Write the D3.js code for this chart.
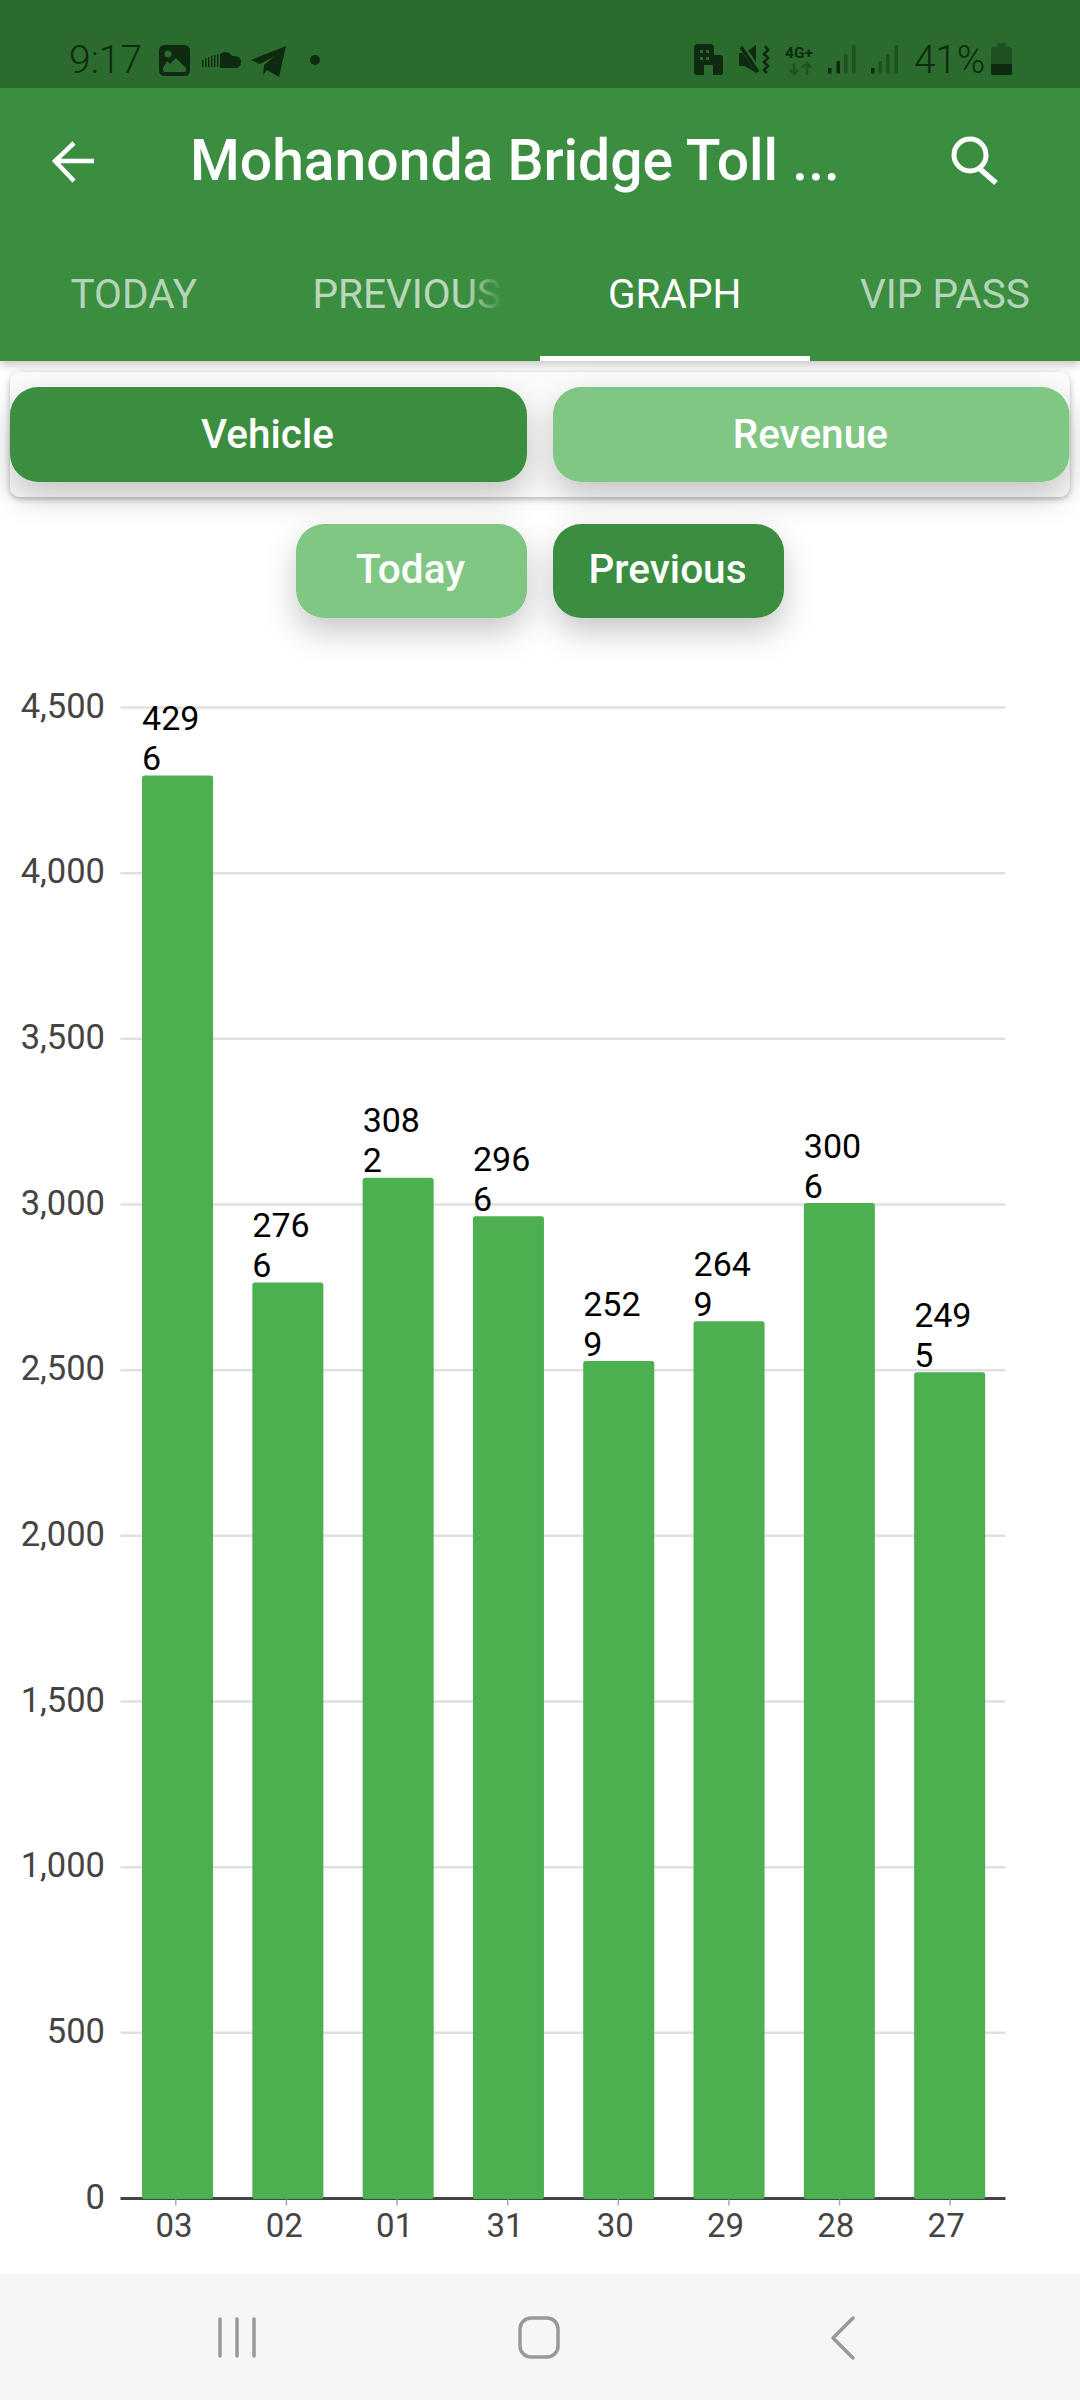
<!DOCTYPE html>
<html>
<head>
<meta charset="utf-8">
<script src="https://cdn.jsdelivr.net/npm/d3@7"></script>
<style>
html, body { margin: 0; padding: 0; background: #fff; }
svg { display: block; font-family: Roboto, sans-serif; }
</style>
</head>
<body>
<div id="chart"></div>
<script>
// values
var days = ["03", "02", "01", "31", "30", "29", "28", "27"]
var vehicles = [4296, 2766, 3082, 2966, 2529, 2649, 3006, 2495]
var yTicks = [0, 500, 1000, 1500, 2000, 2500, 3000, 3500, 4000, 4500]

var GREEN_DARK = "#3a8e3f", GREEN_LIGHT = "#81c784", GREEN_BAR = "#4caf50"
var STATUS_BG = "#2b6b2e", STATUS_FG = "#0e2a10", STATUS_DIM = "#1d5222"

var svg = d3.select("#chart").append("svg")
    .attr("width", 1080)
    .attr("height", 2400)
    .attr("viewBox", "0 0 1080 2400")

var defs = svg.append("defs")

function shadow(id, dy, blur, opacity) {
    defs.append("filter")
        .attr("id", id)
        .attr("x", "-30%").attr("y", "-40%")
        .attr("width", "160%").attr("height", "220%")
        .append("feDropShadow")
        .attr("dx", 0).attr("dy", dy)
        .attr("stdDeviation", blur)
        .attr("flood-color", "#000")
        .attr("flood-opacity", opacity)
}
shadow("btnShadow", 14, 16, 0.22)
shadow("barShadow", 4, 5, 0.22)
shadow("cardShadow", 2, 3, 0.3)

var fade = defs.append("linearGradient")
    .attr("id", "tabFade")
    .attr("gradientUnits", "userSpaceOnUse")
    .attr("x1", 465).attr("x2", 500).attr("y1", 0).attr("y2", 0)
fade.append("stop").attr("offset", 0).attr("stop-color", "#fff").attr("stop-opacity", 0.65)
fade.append("stop").attr("offset", 1).attr("stop-color", "#fff").attr("stop-opacity", 0.05)

// ---- app bar ----
var appBar = svg.append("g")

appBar.append("rect").attr("x", 0).attr("y", 88).attr("width", 1080).attr("height", 273)
    .attr("fill", GREEN_DARK).attr("filter", "url(#barShadow)")
appBar.append("rect").attr("x", 0).attr("y", 0).attr("width", 1080).attr("height", 88)
    .attr("fill", STATUS_BG)

appBar.append("text").attr("x", 190).attr("y", 180)
    .attr("font-size", 57).attr("font-weight", 500).attr("fill", "#fff")
    .text("Mohanonda Bridge Toll ...")

appBar.append("path")
    .attr("d", "M94 161H56M74 143L55 161L74 181")
    .attr("fill", "none").attr("stroke", "#fff").attr("stroke-width", 4.5)
appBar.append("circle").attr("cx", 970).attr("cy", 155).attr("r", 16)
    .attr("fill", "none").attr("stroke", "#fff").attr("stroke-width", 5)
appBar.append("path").attr("d", "M980 169L996 183")
    .attr("stroke", "#fff").attr("stroke-width", 5.5)

var tabs = [
    { label: "TODAY", x: 70.5, fill: "#fff", op: 0.65 },
    { label: "PREVIOUS", x: 312.5, fill: "url(#tabFade)", op: 1 },
    { label: "GRAPH", x: 608, fill: "#fff", op: 1 },
    { label: "VIP PASS", x: 860, fill: "#fff", op: 0.65 }
]
appBar.selectAll("text.tab").data(tabs).enter().append("text")
    .attr("class", "tab")
    .attr("x", function(d) { return d.x })
    .attr("y", 308)
    .attr("font-size", 40.5)
    .attr("fill", function(d) { return d.fill })
    .attr("fill-opacity", function(d) { return d.op })
    .text(function(d) { return d.label })
appBar.append("rect").attr("x", 540).attr("y", 356).attr("width", 270).attr("height", 5).attr("fill", "#fff")

// ---- status bar ----
var statusBar = svg.append("g").attr("fill", STATUS_FG)
statusBar.append("text").attr("x", 69).attr("y", 73).attr("font-size", 39).attr("font-weight", 300).text("9:17")
statusBar.append("text").attr("x", 914).attr("y", 73).attr("font-size", 38.5).attr("font-weight", 300).text("41%")

// picture icon
statusBar.append("path").attr("fill-rule", "evenodd")
    .attr("d", "M165 45H184Q190 45 190 51V70Q190 76 184 76H165Q159 76 159 70V51Q159 45 165 45ZM163 68V70Q163 72 165 72H184Q186 72 186 70V68L176 58L170 64L167 61Z")
statusBar.append("circle").attr("cx", 168).attr("cy", 54).attr("r", 3.5).attr("fill", STATUS_BG)
// soundcloud
statusBar.append("path")
    .attr("d", "M202 60h1.4v7h-1.4zM205 58h1.4v9h-1.4zM208 57h1.4v10h-1.4zM211 56h1.4v11h-1.4zM214 55h1.4v12h-1.4zM217 54h1.4v13h-1.4zM220 54Q227 49 232 56Q241 55 241 62Q241 68 235 68H220Z")
// telegram
statusBar.append("path").attr("d", "M286 46L279 77L267 70L263 75L264 65L275 56L260 64L251 60Z")
statusBar.append("circle").attr("cx", 315).attr("cy", 60).attr("r", 5)
// building
statusBar.append("path").attr("fill-rule", "evenodd")
    .attr("d", "M698 44H710Q714 44 714 48V55H720Q723 55 723 58V72Q723 75 720 75H713V65H704V75H697Q694 75 694 72V48Q694 44 698 44ZM700 50v3h3v-3zM706 50v3h3v-3zM700 57v3h3v-3zM706 57v3h3v-3z")
// muted speaker + vibrate
statusBar.append("path").attr("d", "M739 53H745L756 45V73L745 66H739Z")
statusBar.append("path").attr("d", "M740 44L760 73").attr("stroke", STATUS_BG).attr("stroke-width", 6)
statusBar.append("path").attr("d", "M741 47L758 72").attr("stroke", STATUS_FG).attr("stroke-width", 3.5)
statusBar.append("path").attr("d", "M765 46L768 50L764 54L768 58L764 62L768 66L764 70L767 73")
    .attr("fill", "none").attr("stroke", STATUS_FG).attr("stroke-width", 2.5)
// 4G+
statusBar.append("text").attr("x", 785).attr("y", 58).attr("font-size", 15.5).attr("font-weight", 700).text("4G+")
statusBar.append("path").attr("d", "M794 63V74M790 70L794 74L798 70M807 75V64M802 68L807 63L811 68")
    .attr("fill", "none").attr("stroke", STATUS_DIM).attr("stroke-width", 2.5)
// signal bars
var sig = [[828, 68, 1], [836.5, 61, 1], [844, 54, 0], [852, 45, 0], [871, 68, 1], [878.5, 61, 0], [886, 54, 0], [894.5, 45, 0]]
statusBar.selectAll("rect.sig").data(sig).enter().append("rect")
    .attr("class", "sig")
    .attr("x", function(d) { return d[0] })
    .attr("y", function(d) { return d[1] })
    .attr("width", 3.5)
    .attr("height", function(d) { return 73.5 - d[1] })
    .attr("fill", function(d) { return d[2] ? STATUS_FG : STATUS_DIM })
// battery
statusBar.append("path").attr("fill", STATUS_DIM)
    .attr("d", "M997 43H1006V47H1009Q1012 47 1012 50V64H991V50Q991 47 994 47H997Z")
statusBar.append("path").attr("d", "M991 64H1012V73Q1012 75 1010 75H993Q991 75 991 73Z")

// ---- buttons ----
svg.append("rect").attr("x", 10).attr("y", 372).attr("width", 1059.5).attr("height", 125)
    .attr("rx", 10).attr("fill", "#fbfbfb").attr("filter", "url(#cardShadow)")

var buttons = [
    { label: "Vehicle", x: 10, y: 387, w: 517, h: 95, fill: GREEN_DARK, base: 448 },
    { label: "Revenue", x: 553, y: 387, w: 516.5, h: 95, fill: GREEN_LIGHT, base: 448 },
    { label: "Today", x: 296, y: 524, w: 231, h: 94, fill: GREEN_LIGHT, base: 583 },
    { label: "Previous", x: 553, y: 524, w: 231, h: 94, fill: GREEN_DARK, base: 583 }
]
var btn = svg.selectAll("g.btn").data(buttons).enter().append("g").attr("class", "btn")
btn.append("rect")
    .attr("x", function(d) { return d.x })
    .attr("y", function(d) { return d.y })
    .attr("width", function(d) { return d.w })
    .attr("height", function(d) { return d.h })
    .attr("rx", 28)
    .attr("fill", function(d) { return d.fill })
    .attr("filter", "url(#btnShadow)")
btn.append("text")
    .attr("x", function(d) { return d.x + d.w / 2 - 1 })
    .attr("y", function(d) { return d.base })
    .attr("text-anchor", "middle")
    .attr("font-size", 40.5)
    .attr("font-weight", 500)
    .attr("fill", "#fff")
    .text(function(d) { return d.label })

// ---- chart ----
var plotLeft = 120.5, plotRight = 1005.5, plotTop = 707, plotBottom = 2198

// tick marks sit on a slightly wider step than the bars and their labels
var xTick = d3.scaleBand().domain(days).range([plotLeft, plotRight])
var x = d3.scaleBand().domain(days).range([122.4, 1004.8])
x.paddingInner(0.356).paddingOuter(0.178)
var y = d3.scaleLinear().domain([0, 4500]).range([plotBottom, plotTop])

var yAxis = svg.append("g")
    .attr("transform", "translate(" + plotLeft + ",0)")
    .call(d3.axisLeft(y).tickValues(yTicks).tickFormat(d3.format(",")).tickSize(-(plotRight - plotLeft)).tickPadding(15.5))
yAxis.select(".domain").remove()
yAxis.selectAll(".tick line").attr("stroke", "#e0e0e0").attr("stroke-width", 2.5)
yAxis.selectAll(".tick text")
    .attr("font-family", "Roboto, sans-serif").attr("font-size", 34.5).attr("fill", "#444")
    .attr("dy", 10)
// zero line is darker than the grid
yAxis.selectAll(".tick").filter(function(d) { return d === 0 }).select("line")
    .attr("stroke", "#444").attr("stroke-width", 3)

var xMarks = svg.append("g")
    .attr("transform", "translate(0," + (plotBottom + 1.5) + ")")
    .call(d3.axisBottom(xTick).tickSize(6).tickFormat(""))
xMarks.select(".domain").remove()
xMarks.selectAll(".tick line").attr("stroke", "#aaa").attr("stroke-width", 1.5)

var xLabels = svg.append("g")
    .attr("transform", "translate(-3.5," + (plotBottom + 1.5) + ")")
    .call(d3.axisBottom(x).tickSize(0))
xLabels.select(".domain").remove()
xLabels.selectAll(".tick text")
    .attr("font-family", "Roboto, sans-serif").attr("font-size", 33).attr("fill", "#444")
    .attr("y", 14).attr("dy", "0.71em")

svg.selectAll("rect.bar").data(vehicles).enter().append("rect")
    .attr("class", "bar")
    .attr("x", function(d, i) { return x(days[i]) })
    .attr("y", function(d) { return y(d) + 1 })
    .attr("width", x.bandwidth())
    .attr("height", function(d) { return plotBottom - y(d) })
    .attr("rx", 2.5)
    .attr("fill", GREEN_BAR)

// the value labels wrap after three digits in the bar width
var lab = svg.selectAll("text.value").data(vehicles).enter().append("text")
    .attr("class", "value")
    .attr("font-size", 34)
    .attr("fill", "#000")
lab.append("tspan")
    .attr("x", function(d, i) { return x(days[i]) })
    .attr("y", function(d) { return y(d) - 44.5 })
    .text(function(d) { return String(d).slice(0, 3) })
lab.append("tspan")
    .attr("x", function(d, i) { return x(days[i]) })
    .attr("y", function(d) { return y(d) - 4.5 })
    .text(function(d) { return String(d).slice(3) })

// ---- navigation bar ----
svg.append("rect").attr("x", 0).attr("y", 2274).attr("width", 1080).attr("height", 126).attr("fill", "#f6f6f6")
var nav = svg.append("g").attr("fill", "none").attr("stroke", "#999").attr("stroke-width", 3.5).attr("stroke-linecap", "round")
nav.append("path").attr("d", "M220 2319V2356M237 2319V2356M254 2319V2356")
nav.append("rect").attr("x", 520).attr("y", 2318).attr("width", 38).attr("height", 39).attr("rx", 11)
nav.append("path").attr("d", "M853 2318L833 2338L853 2358").attr("stroke-linejoin", "round")
</script>
</body>
</html>
